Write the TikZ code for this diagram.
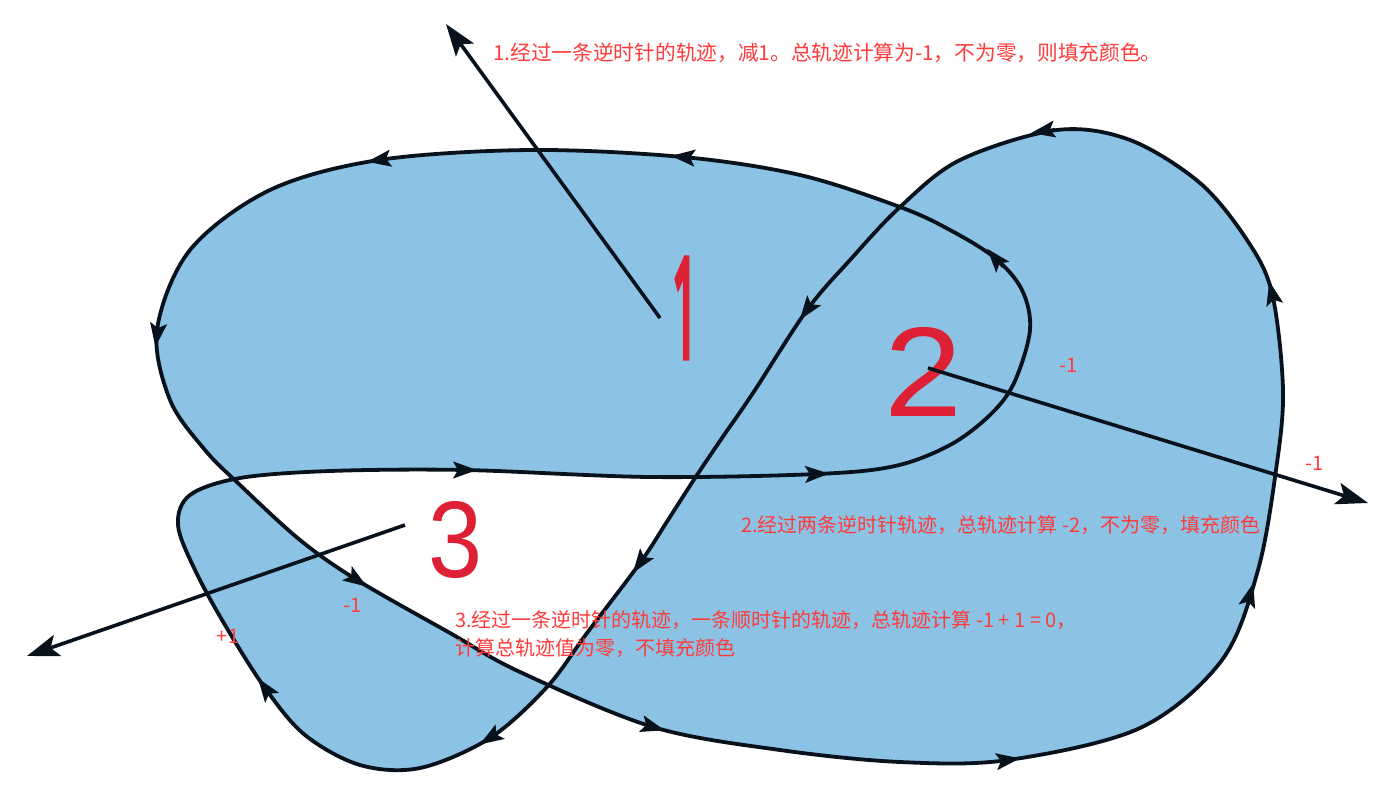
\documentclass[tikz,border=0pt]{standalone}
\usepackage{fontspec}
\setmainfont{Liberation Sans}
\newfontfamily\cjk{Noto Sans CJK SC}
\newfontfamily\numfont[FakeBold=6]{Open Sans}
\usetikzlibrary{arrows.meta}
\definecolor{fillblue}{RGB}{140,194,228}
\definecolor{curvecol}{RGB}{8,18,28}
\definecolor{txtred}{RGB}{255,59,59}
\definecolor{numred}{RGB}{222,32,52}
\newcommand{\cvarrow}[4]{\draw[curvetip] ({#1-#3},{#2-#4}) -- ({#1+#3},{#2+#4});}
\tikzset{
  curvetip/.style={draw=curvecol, line width=2pt, -{Stealth[length=24pt,width=17pt,inset=5pt]}},
  ray/.style={draw=curvecol, line width=3.6pt, -{Stealth[length=32pt,width=22pt,inset=7pt]}},
  note/.style={text=txtred, font=\cjk\fontsize{20pt}{28pt}\selectfont, anchor=west, inner sep=0pt},
  small/.style={text=txtred, font=\cjk\fontsize{20pt}{22pt}\selectfont, inner sep=0pt},
  num/.style={text=numred, inner sep=0pt}
}
\begin{document}
\begin{tikzpicture}[x=1pt,y=-1pt]
\useasboundingbox (0,0) rectangle (1389,811);
\fill[white] (0,0) rectangle (1389,811);
% the closed self-intersecting curve (nonzero rule)
\filldraw[fill=fillblue, draw=curvecol, line width=3.8pt, line join=round]
  plot[smooth cycle, tension=0.55] coordinates {
  (995,258) (950,230) (900,207) (800,175) (683,157) (530,150) (379,160)
  (270,190) (190,250) (157,330) (170,400) (205,450) (240,485) (300,540)
  (357,580) (450,633) (520,672) (653,727) (780,750) (900,762) (1008,760)
  (1140,728) (1222,660) (1258,570) (1276,470) (1283,390) (1272,293)
  (1247,240) (1200,183) (1130,140) (1057,130) (960,160) (900,207)
  (850,260) (807,310) (753,393) (722,438) (695,478) (668,520) (640,563)
  (587,633) (547,687) (490,738) (420,768) (360,765) (305,735) (265,688)
  (225,625) (195,570) (178,525) (190,495) (240,478) (330,471) (465,470)
  (650,477) (817,474) (895,466) (950,445) (990,415) (1014,383) (1030,330)
  (1022,290) };
% arrowheads along the curve
\cvarrow{683}{157}{-11.9}{-1.1}
\cvarrow{379}{160}{-11.9}{1.8}
\cvarrow{157}{335}{-1.6}{11.9}
\cvarrow{357}{580}{10}{6.7}
\cvarrow{653}{727}{11.5}{3.3}
\cvarrow{1008}{760}{11.9}{-1.7}
\cvarrow{1250}{595}{3.2}{-11.6}
\cvarrow{1272}{293}{-2.8}{-11.7}
\cvarrow{1043}{131}{-11.8}{2}
\cvarrow{807}{310}{-7.1}{9.7}
\cvarrow{640}{563}{-7}{9.75}
\cvarrow{490}{738}{-10.2}{6.4}
\cvarrow{265}{688}{-7}{-9.7}
\cvarrow{465}{470}{12}{0}
\cvarrow{817}{474}{12}{-0.4}
\cvarrow{995}{258}{-7.7}{-9.2}
% region numbers
\node[num] (n1) at (685,308) {\resizebox{26pt}{97pt}{\numfont 1}};
\node[num] (n2) at (924,372) {\resizebox{78pt}{89pt}{2}};
\node[num] (n3) at (456,540) {\resizebox{54pt}{76pt}{3}};
% rays
\coordinate (r1s) at (660,318);
\coordinate (r1e) at (446,24);
\coordinate (r2s) at (928,368);
\coordinate (r2e) at (1368,503);
\coordinate (r3s) at (405,525);
\coordinate (r3e) at (27,656);
\draw[ray] (r1s) -- (r1e);
\draw[ray] (r2s) -- (r2e);
\draw[ray] (r3s) -- (r3e);
% crossing labels
\node[small] (l1) at (1069,365) {-1};
\node[small] (l2) at (1315,463) {-1};
\node[small] (l3) at (353,605) {-1};
\node[small] (l4) at (228,636) {+1};
% notes
\node[note, font=\cjk\fontsize{20.7pt}{28pt}\selectfont] (t1) at (493,53) {1.经过一条逆时针的轨迹，减1。总轨迹计算为-1，不为零，则填充颜色。};
\node[note] (t2) at (741,525) {2.经过两条逆时针轨迹，总轨迹计算 -2，不为零，填充颜色};
\node[note] (t3) at (455,620) {3.经过一条逆时针的轨迹，一条顺时针的轨迹，总轨迹计算 -1 + 1 = 0，};
\node[note] (t4) at (455,648) {计算总轨迹值为零，不填充颜色};
\end{tikzpicture}
\end{document}
